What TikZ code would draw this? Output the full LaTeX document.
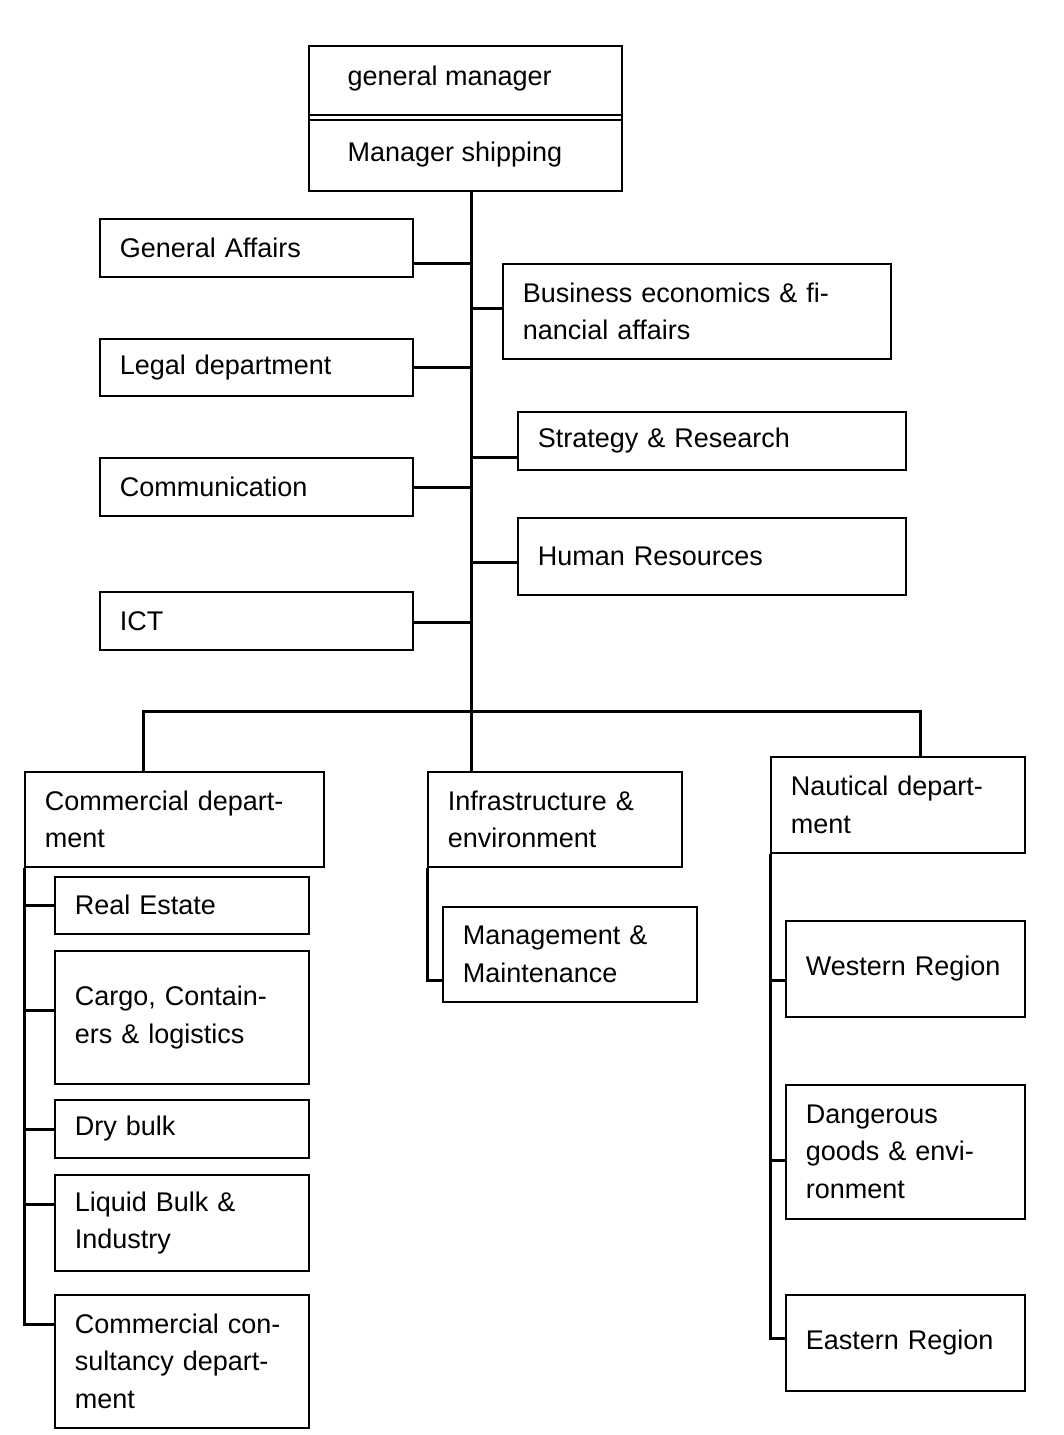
\documentclass[tikz,border=0pt]{standalone}
\usepackage{fontspec}
\setmainfont{Liberation Sans}
\newcommand{\bxx}[6]{\node[bx,minimum width={#4-#2},minimum height={#5-#3},text width={#4-#2-40},anchor=north west] (#1) at (#2,#3) {#6};}
\begin{document}
\begin{tikzpicture}[x=1pt,y=-1pt,
  bx/.style={draw,line width=1.6pt,align=left,inner sep=0pt,font=\fontsize{27}{37.5}\selectfont},
  ln/.style={line width=3pt}]
\useasboundingbox (0,0) rectangle (1064,1435);
\bxx{gm}{308}{45}{621}{190}{}
\node[font=\fontsize{27}{32}\selectfont,anchor=west] (gmt) at (344,79) {general manager};
\node[font=\fontsize{27}{32}\selectfont,anchor=west] (mst) at (344,155) {Manager shipping};
\draw[line width=1.4pt] (gm.west |- 0,115) -- (gm.east |- 0,115);
\draw[line width=1.4pt] (gm.west |- 0,120) -- (gm.east |- 0,120);
\bxx{ga}{99}{218}{412}{276}{General Affairs}
\bxx{be}{502}{263}{890}{358}{Business economics \& financial affairs}
\bxx{ld}{99}{338}{412}{395}{Legal department}
\bxx{sr}{517}{411}{905}{469}{Strategy \& Research}
\bxx{co}{99}{457}{412}{515}{Communication}
\bxx{hr}{517}{517}{905}{594}{Human Resources}
\bxx{ict}{99}{591}{412}{649}{ICT}
\bxx{cd}{24}{771}{323}{866}{Commercial department}
\bxx{ie}{427}{771}{681}{866}{Infrastructure \& environment}
\bxx{nd}{770}{756}{1024}{852}{Nautical department}
\bxx{re}{54}{876}{308}{933}{Real Estate}
\bxx{cc}{54}{950}{308}{1083}{Cargo, Containers \& logistics}
\bxx{db}{54}{1099}{308}{1157}{Dry bulk}
\bxx{lb}{54}{1174}{308}{1270}{Liquid Bulk \& Industry}
\bxx{ccd}{54}{1294}{308}{1427}{Commercial consultancy department}
\bxx{mm}{442}{906}{696}{1001}{Management \& Maintenance}
\bxx{wr}{785}{920}{1024}{1016}{Western Region}
\bxx{dg}{785}{1084}{1024}{1218}{Dangerous goods \& environment}
\bxx{er}{785}{1294}{1024}{1390}{Eastern Region}
\coordinate (hub) at (471,711);
\draw[ln] (gm.south -| hub) -- (hub);
\draw[ln] (ga.east |- 0,263) -- (hub |- 0,263);
\draw[ln] (be.west |- 0,308) -- (hub |- 0,308);
\draw[ln] (ld.east) -- (hub |- ld.east);
\draw[ln] (sr.west |- 0,457) -- (hub |- 0,457);
\draw[ln] (co.east |- 0,487) -- (hub |- 0,487);
\draw[ln] (hr.west |- 0,562) -- (hub |- 0,562);
\draw[ln] (ict.east |- 0,622) -- (hub |- 0,622);
\draw[ln] (143,771) -- (143,711) -- (920,711) -- (920,756);
\draw[ln] (hub) -- (ie.north -| hub);
\draw[ln] (cd.south west) -- (24,1324) -- (ccd.west |- 0,1324);
\foreach \n/\y in {re/905,cc/1010,db/1129,lb/1204}{\draw[ln] (24,\y) -- (\n.west |- 0,\y);}
\draw[ln] (ie.south west) -- (427,980) -- (mm.west |- 0,980);
\draw[ln] (nd.south west) -- (770,1338) -- (er.west |- 0,1338);
\foreach \n/\y in {wr/980,dg/1160}{\draw[ln] (770,\y) -- (\n.west |- 0,\y);}
\end{tikzpicture}
\end{document}
